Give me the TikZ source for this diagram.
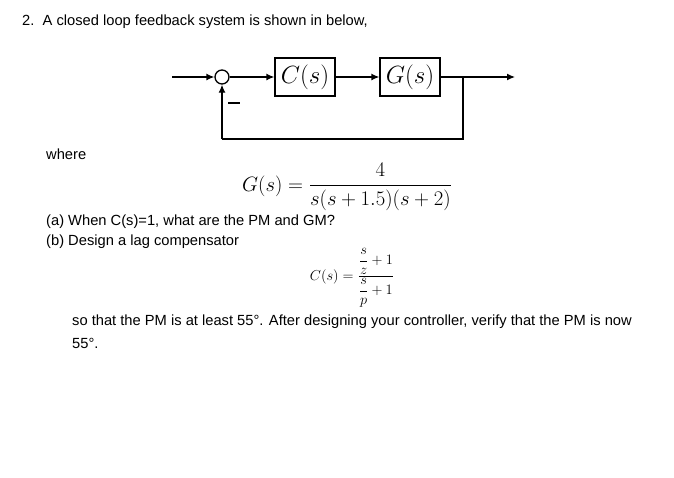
\documentclass[tikz,border=0pt]{standalone}
\usepackage{amsmath}
\usepackage{fontspec}
\setmainfont{Liberation Sans}
\usetikzlibrary{arrows.meta}
\begin{document}
\begin{tikzpicture}[x=1pt,y=-1pt,
  blk/.style={draw,line width=1.3pt,minimum width=60pt,minimum height=38pt,inner sep=0pt,font=\fontsize{25}{27}\selectfont},
  sig/.style={line width=1.3pt,-{Latex[length=8pt,width=7pt]}},
  ln/.style={line width=1.3pt},
  txt/.style={anchor=west,inner sep=0pt,font=\fontsize{14.7}{17}\selectfont}]
\useasboundingbox (0,0) rectangle (674,477);
\node[txt] (t1) at (22,22) {2.\ \ A closed loop feedback system is shown in below,};
\coordinate (in) at (172,77);
\node[draw,circle,line width=1.3pt,minimum size=14pt,inner sep=0pt] (sum) at (222,77) {};
\node[blk] (C) at (305,77) {$C(s)$};
\node[blk] (G) at (410,77) {$G(s)$};
\coordinate (br) at (463,77);
\coordinate (out) at (515,77);
\coordinate (b1) at (463,139);
\coordinate (b2) at (222,139);
\draw[sig] (in) -- (sum);
\draw[sig] (sum) -- (C);
\draw[sig] (C) -- (G);
\draw[sig] (G) -- (out);
\draw[ln] (br) -- (b1) -- (b2);
\draw[sig] (b2) -- (sum);
\draw[line width=2pt] (228,103) -- (240,103);
\node[txt] (w) at (46,154) {where};
\node[anchor=center,inner sep=0pt,font=\fontsize{19.5}{22}\selectfont] (Geq) at (347,187) {$G(s)=\dfrac{4}{s(s+1.5)(s+2)}$};
\node[txt] (a) at (46,222) {(a) When C(s)=1, what are the PM and GM?};
\node[txt] (b) at (46,242) {(b) Design a lag compensator};
\node[anchor=center,inner sep=0pt,font=\fontsize{14}{16}\selectfont] (Ceq) at (352,278) {$C(s)=\dfrac{\dfrac{s}{z}+1}{\dfrac{s}{p}+1}$};
\node[txt] (s1) at (72,322) {so that the PM is at least 55\textdegree. After designing your controller, verify that the PM is now};
\node[txt] (s2) at (72,343) {55\textdegree.};
\end{tikzpicture}
\end{document}
